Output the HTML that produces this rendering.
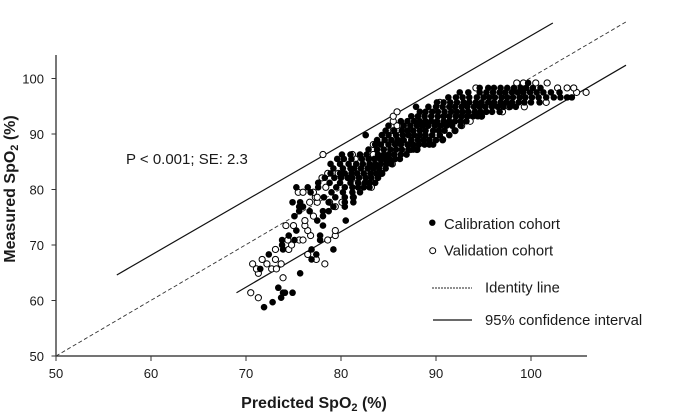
<!DOCTYPE html>
<html lang="en">
<head>
<meta charset="utf-8">
<title>Measured vs predicted SpO2</title>
<style>
html,body{margin:0;padding:0;background:#fff;width:685px;height:417px;overflow:hidden}
svg{display:block;font-family:"Liberation Sans",Arial,sans-serif;fill:#1a1a1a}
</style>
</head>
<body>
<svg id="chart" width="685" height="417" viewBox="0 0 685 417" xmlns="http://www.w3.org/2000/svg">
  <text x="126" y="164" font-size="15">P &lt; 0.001; SE: 2.3</text>
  <text x="314" y="408" font-size="16" font-weight="bold" text-anchor="middle">Predicted SpO<tspan font-size="11" dy="3">2</tspan><tspan dy="-3"> (%)</tspan></text>
  <text transform="translate(15,189) rotate(-90)" font-size="16" font-weight="bold" text-anchor="middle">Measured SpO<tspan font-size="11" dy="3">2</tspan><tspan dy="-3"> (%)</tspan></text>
  <g>
    <circle cx="432.3" cy="222.7" r="3.2" fill="#000"/>
    <text x="444" y="229" font-size="14.8">Calibration cohort</text>
    <circle cx="432.7" cy="250.7" r="3" fill="#fff" stroke="#000" stroke-width="1"/>
    <text x="444" y="255.5" font-size="14.8">Validation cohort</text>
    <line x1="432" y1="288" x2="472" y2="288" stroke="#222" stroke-width="1" stroke-dasharray="2 1"/>
    <text x="485" y="292.5" font-size="14.8">Identity line</text>
    <line x1="433" y1="320" x2="472" y2="320" stroke="#111" stroke-width="1.3"/>
    <text x="485" y="325" font-size="14.8">95% confidence interval</text>
  </g>
</svg>
<script>
const xTicks = [50, 60, 70, 80, 90, 100];
const yTicks = [50, 60, 70, 80, 90, 100];
const identityLine = [50, 50, 110, 110.2];
const upperLine = [56.4, 64.6, 102.3, 110];
const lowerLine = [69, 61.4, 110, 102.4];

const calibrationLevels = [58.8, 59.7, 60.5, 61.4, 62.3, 64.9, 65.7, 67.4, 68.3, 69.2, 70.0, 70.9, 71.7, 72.6, 73.5, 74.4, 75.2, 76.1, 76.9, 77.7, 78.6, 79.5, 80.4, 81.2, 82.1, 82.9, 83.8, 84.6, 85.5, 86.3, 87.2, 88.1, 88.9, 89.8, 90.6, 91.5, 92.3, 93.2, 94.0, 94.9, 95.7, 96.6, 97.5, 98.3, 99.2];
const calibrationPredicted = [
  [71.9],
  [72.8],
  [73.7],
  [73.9, 74.1, 74.9],
  [73.4],
  [75.7],
  [71.5],
  [76.9],
  [72.4, 77.4],
  [73.9, 76.9, 79.2],
  [73.8],
  [73.8, 75.1, 77.8],
  [74.5, 77.8],
  [75.3],
  [78.1],
  [77.5, 80.5],
  [75.1, 78.1],
  [75.6, 76.7, 78.1, 78.7],
  [75.6, 76.0, 79.2, 80.4],
  [74.9, 75.7, 78.7, 80.4, 81.3],
  [78.2, 79.4, 80.4, 81.3],
  [76.8, 79.0, 80.2, 81.2, 82.0],
  [75.3, 76.5, 77.6, 79.5, 80.4, 81.2, 81.8, 82.4, 83.0],
  [77.6, 78.8, 79.9, 81.0, 81.8, 82.5, 83.0, 83.6],
  [78.3, 79.3, 80.0, 80.7, 81.2, 81.9, 82.6, 83.2, 83.9],
  [78.9, 79.9, 80.4, 81.1, 81.7, 82.4, 83.1, 83.7, 84.3],
  [79.2, 80.2, 81.0, 81.4, 82.1, 82.8, 83.4, 84.0, 84.7],
  [78.9, 79.9, 80.8, 81.6, 82.3, 83.0, 83.6, 84.2, 84.8, 85.3],
  [79.6, 80.3, 81.1, 82.2, 82.9, 83.5, 84.1, 84.6, 85.1, 85.7, 86.2],
  [80.1, 81.0, 82.0, 82.7, 83.9, 84.5, 85.0, 85.6, 86.3, 86.9],
  [82.9, 83.8, 84.5, 85.2, 85.8, 86.4, 87.1, 87.6, 88.0],
  [83.6, 84.2, 85.0, 85.7, 86.3, 87.0, 87.6, 88.2, 88.8, 89.3, 89.7],
  [83.8, 84.6, 85.3, 86.0, 86.6, 87.4, 88.1, 88.7, 89.3, 90.0, 90.7],
  [82.6, 84.3, 85.0, 85.8, 86.5, 87.1, 87.7, 88.3, 88.9, 89.6, 90.4, 91.4],
  [84.7, 85.6, 86.4, 87.0, 87.6, 88.3, 88.9, 89.7, 90.3, 90.9, 92.0],
  [85.0, 86.6, 87.3, 88.0, 88.6, 89.2, 89.9, 90.5, 91.1, 91.7, 92.6],
  [86.3, 87.0, 87.7, 88.3, 88.9, 89.5, 90.1, 90.8, 91.4, 92.0, 92.6, 93.2],
  [87.4, 88.1, 88.8, 89.5, 90.2, 90.8, 91.4, 92.1, 92.7, 93.3, 93.9, 94.4, 94.8],
  [88.3, 88.9, 89.6, 90.2, 90.9, 91.6, 92.2, 92.8, 93.4, 94.1, 94.7, 95.3, 95.9, 96.7],
  [87.9, 89.2, 90.0, 90.7, 91.4, 92.0, 92.7, 93.3, 94.0, 94.6, 95.2, 95.9, 96.5, 97.1, 97.8, 98.4],
  [90.1, 90.8, 91.5, 92.2, 92.9, 93.5, 94.2, 94.8, 95.5, 96.1, 96.8, 97.4, 98.0, 98.7, 99.3, 100.0, 100.9],
  [91.3, 92.1, 92.8, 93.5, 94.3, 95.0, 95.6, 96.2, 96.9, 97.5, 98.1, 98.8, 99.4, 100.1, 100.8, 101.6, 102.4, 103.1, 103.8, 104.3],
  [92.5, 93.4, 94.6, 95.3, 96.0, 96.7, 97.3, 98.0, 98.6, 99.2, 99.9, 100.6, 101.3, 102.1, 103.0],
  [94.6, 95.5, 96.1, 96.8, 97.5, 98.2, 98.9, 99.5, 100.2, 101.0],
  [99.7]
];

const validationLevels = [60.5, 61.4, 64.1, 64.9, 65.7, 66.6, 67.4, 68.3, 69.2, 70.0, 70.9, 71.7, 72.6, 73.5, 74.4, 75.2, 76.9, 77.7, 78.6, 79.5, 80.4, 82.1, 82.9, 84.6, 85.5, 86.3, 87.2, 88.1, 89.0, 89.8, 90.6, 91.5, 92.3, 93.2, 94.0, 94.9, 95.7, 97.5, 98.3, 99.2];
const validationPredicted = [
  [71.3],
  [70.5],
  [73.9],
  [71.3],
  [71.1, 72.7, 73.2],
  [70.7, 72.2, 73.7, 78.3],
  [71.7, 73.1, 77.4],
  [76.5],
  [73.1, 74.5],
  [74.8],
  [74.4, 75.6, 76.0, 78.6],
  [76.8, 79.4],
  [76.5, 79.4],
  [74.2, 75.0, 76.2],
  [76.2],
  [77.1],
  [79.4],
  [76.7, 77.5, 78.8, 80.1],
  [77.3, 77.5, 81.3],
  [75.5, 76.0, 77.1],
  [78.4, 82.2, 83.2],
  [78.0],
  [78.6, 79.7, 84.3],
  [85.4],
  [81.5],
  [78.1, 81.2, 83.4],
  [87.3, 88.0],
  [83.4, 84.6],
  [85.4, 90.7],
  [86.2, 85.5],
  [85.5, 92.0],
  [85.9, 86.5, 92.7],
  [85.5, 93.6],
  [85.5, 94.8],
  [85.9, 97.0],
  [97.7, 99.3],
  [90.4, 101.6],
  [104.8, 105.8],
  [94.2, 102.8, 103.8, 104.5],
  [98.5, 99.2, 100.5, 101.7]
];

const svg = document.getElementById('chart');
const NS = 'http://www.w3.org/2000/svg';
function xScale(v) { return 56 + (v - 50) * 9.5; }
function yScale(v) { return 356 - (v - 50) * 5.55; }
function make(tag, attrs) {
  const el = document.createElementNS(NS, tag);
  for (const k in attrs) el.setAttribute(k, attrs[k]);
  svg.appendChild(el);
  return el;
}

const identity = make('line', {x1: xScale(identityLine[0]), y1: yScale(identityLine[1]), x2: xScale(identityLine[2]), y2: yScale(identityLine[3]), stroke: '#333', 'stroke-width': 0.9, 'stroke-dasharray': '4 2.5'});



const upper = make('line', {x1: xScale(upperLine[0]), y1: yScale(upperLine[1]), x2: xScale(upperLine[2]), y2: yScale(upperLine[3]), stroke: '#111', 'stroke-width': 1.2});



const lower = make('line', {x1: xScale(lowerLine[0]), y1: yScale(lowerLine[1]), x2: xScale(lowerLine[2]), y2: yScale(lowerLine[3]), stroke: '#111', 'stroke-width': 1.2});



validationLevels.forEach(function (level, r) {
  (validationPredicted[r] || []).forEach(function (x) {
    const p = make('circle', {cx: xScale(x), cy: yScale(level), r: 3.1, fill: '#fff', stroke: '#000', 'stroke-width': 1});
    
    
  });
});
calibrationLevels.forEach(function (level, r) {
  (calibrationPredicted[r] || []).forEach(function (x) {
    const p = make('circle', {cx: xScale(x), cy: yScale(level), r: 3.3, fill: '#000'});
    
    
  });
});

const yAxis = make('line', {x1: xScale(50), y1: 55, x2: xScale(50), y2: yScale(50), stroke: '#777', 'stroke-width': 2});



const xAxis = make('line', {x1: xScale(50), y1: yScale(50), x2: 587, y2: yScale(50), stroke: '#222', 'stroke-width': 1.2});



xTicks.forEach(function (t) {
  const tick = make('line', {x1: xScale(t), y1: yScale(50), x2: xScale(t), y2: yScale(50) + 5, stroke: '#333', 'stroke-width': 1});
  
  
  const label = make('text', {x: xScale(t), y: 378, 'font-size': 13, 'text-anchor': 'middle'});
  
  
  label.textContent = t;
});
yTicks.forEach(function (t) {
  const tick = make('line', {x1: xScale(50) - 4.5, y1: yScale(t), x2: xScale(50), y2: yScale(t), stroke: '#333', 'stroke-width': 1});
  
  
  const label = make('text', {x: 44, y: yScale(t) + 5, 'font-size': 13, 'text-anchor': 'end'});
  
  
  label.textContent = t;
});
</script>
</body>
</html>
